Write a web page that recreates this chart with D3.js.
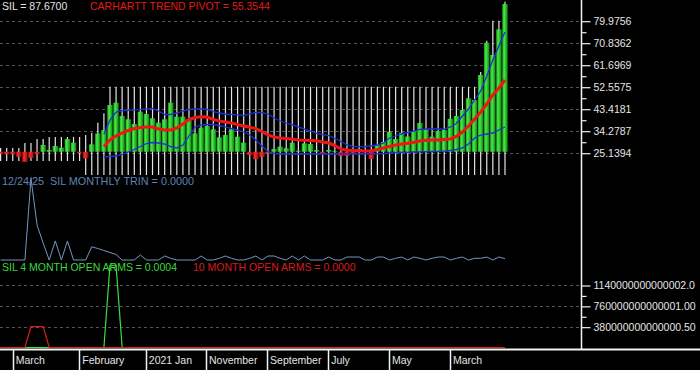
<!DOCTYPE html>
<html>
<head>
<meta charset="utf-8">
<script src="https://cdn.jsdelivr.net/npm/d3@7"></script>
<style>
  body { margin: 0; background: #000; }
  svg { display: block; font-family: "Liberation Sans", Arial, sans-serif; }
</style>
</head>
<body>
<div id="chart"></div>
<script>
// monthly closes, oldest first
var closes = [24.7, 24.5, 24.5, 23.48, 21.40, 22.94, 24.60, 28.34, 26.26, 27.92,
  27.22, 30.83, 29.29, 25.01, 22.81, 28.63, 33.12, 34.57, 44.95, 45.91,
  40.39, 39.02, 37.06, 42.17, 41.22, 39.43, 37.60, 39.02, 45.91, 40.09,
  40.09, 39.14, 33.20, 35.53, 36.23, 34.86, 31.54, 32.49, 34.86, 31.79,
  29.29, 24.18, 22.40, 23.35, 25.01, 26.68, 27.63, 26.97, 29.29, 25.97,
  29.04, 28.75, 26.26, 24.60, 26.26, 25.85, 23.77, 23.77, 25.01, 26.68,
  26.05, 22.52, 28.34, 29.58, 33.86, 30.83, 33.45, 31.87, 33.95, 37.48,
  34.86, 31.79, 34.15, 34.57, 39.22, 40.39, 42.88, 47.74, 47.03, 57.42,
  70.84, 65.73, 76.40, 86.90];
var barBase = 25.55;

var rangeHigh = [27.09, 27.09, 27.09, 27.09, 29.17, 29.17, 30.83, 30.83, 31.66, 31.66,
  31.66, 31.66, 31.66, 31.66, 32.49, 33.45, 37.60, 41.51, 52.56, 52.56,
  52.56, 52.56, 52.56, 52.56, 52.56, 52.56, 52.56, 52.56, 52.56, 52.56,
  52.56, 52.56, 52.56, 52.56, 52.56, 52.56, 52.56, 52.56, 52.56, 52.56,
  52.56, 52.56, 52.56, 52.56, 52.56, 52.56, 52.56, 52.56, 52.56, 52.56,
  52.56, 52.56, 52.56, 52.56, 52.56, 52.56, 52.56, 52.56, 52.56, 52.56,
  52.56, 52.56, 52.56, 52.56, 52.56, 52.56, 52.56, 52.56, 52.56, 52.56,
  52.56, 52.56, 52.56, 52.56, 52.56, 52.56, 52.56, 52.56, 52.56, 58.66,
  71.67, 79.98, 79.98, 87.87];
var rangeLow = [21.69, 21.69, 21.69, 21.69, 21.69, 21.69, 21.69, 21.69, 21.69, 21.69,
  21.69, 21.69, 21.69, 21.69, 15.87, 15.87, 15.87, 15.87, 15.87, 15.87,
  15.87, 15.87, 15.87, 15.87, 15.87, 15.87, 15.87, 15.87, 15.87, 15.87,
  15.87, 15.87, 15.87, 15.87, 15.87, 15.87, 15.87, 15.87, 15.87, 15.87,
  15.87, 15.87, 15.87, 15.87, 15.87, 15.87, 15.87, 15.87, 15.87, 15.87,
  15.87, 15.87, 15.87, 15.87, 15.87, 15.87, 15.87, 15.87, 15.87, 15.87,
  15.87, 15.87, 15.87, 15.87, 15.87, 15.87, 15.87, 15.87, 15.87, 15.87,
  15.87, 15.87, 15.87, 15.87, 15.87, 15.87, 15.87, 15.87, 15.87, 15.87,
  15.87, 15.87, 15.87, 15.87];

// trend pivot and its bands start at bar 17
var pivot = [null, null, null, null, null, null, null, null, null, null,
  null, null, null, null, null, null, null,
  27.71, 30.41, 32.08, 33.32, 34.36, 35.19, 35.61, 35.82, 35.82, 34.98,
  34.57, 34.57, 35.40, 37.06, 38.93, 39.76, 40.09, 39.97, 38.93, 38.31,
  37.89, 37.48, 36.85, 36.23, 35.69, 35.19, 33.95, 32.49, 31.66, 31.25,
  31.04, 30.71, 30.41, 30.29, 30.21, 30.12, 29.58, 29.17, 28.13, 26.68,
  26.18, 26.05, 25.97, 25.85, 25.93, 26.47, 27.09, 27.71, 28.34, 28.75,
  29.04, 29.46, 30.00, 30.29, 30.41, 30.41, 30.62, 30.83, 31.87, 33.74,
  36.23, 39.14, 42.05, 45.37, 49.11, 52.02, 55.35];
var upperBand = [null, null, null, null, null, null, null, null, null, null,
  null, null, null, null, null, null, null,
  32.91, 38.72, 42.05, 42.67, 42.88, 42.96, 43.17, 43.29, 43.50, 42.46,
  41.01, 41.01, 41.63, 42.46, 43.09, 43.29, 43.29, 43.09, 42.25, 41.63,
  41.22, 41.09, 40.88, 40.59, 41.22, 41.84, 41.84, 41.22, 39.55, 38.31,
  37.48, 36.65, 35.82, 34.98, 34.15, 33.20, 32.70, 32.28, 31.04, 29.79,
  28.34, 27.63, 27.63, 27.71, 27.92, 28.34, 29.17, 31.25, 32.08, 32.91,
  33.53, 34.15, 34.86, 34.98, 34.98, 34.98, 34.98, 35.82, 37.27, 40.39,
  43.29, 47.03, 50.77, 57.00, 63.65, 69.46, 75.28];
var lowerBand = [null, null, null, null, null, null, null, null, null, null,
  null, null, null, null, null, null, null,
  23.35, 23.56, 23.77, 24.39, 25.43, 26.47, 27.71, 28.96, 29.38, 29.17,
  28.75, 27.71, 27.09, 28.34, 32.08, 35.82, 36.65, 36.85, 36.85, 36.44,
  35.82, 35.19, 34.57, 33.74, 32.49, 30.41, 27.92, 25.64, 24.81, 24.60,
  24.60, 24.60, 24.60, 24.60, 24.60, 24.60, 24.60, 24.60, 24.60, 24.60,
  24.60, 24.60, 24.60, 24.60, 24.60, 24.68, 24.81, 25.01, 25.14, 25.22,
  25.31, 25.43, 25.51, 25.55, 25.64, 25.72, 25.85, 26.05, 26.47, 27.09,
  28.75, 31.25, 32.49, 32.91, 33.32, 34.57, 35.82];

var trin = [0, 0, 0, 0, 0, 9.6, 4.1, 2.0, 0, 2.24,
  0, 2.24, 0, 0, 0, 1.56, 1.35, 1.12, 0.88, 0.65,
  0, 0, 0, 0.59, 0, 0, 0, 0.47, 0.2, 0,
  0, 0, 0, 0.47, 0, 0, 0.2, 0.47, 0.2, 0,
  0, 0.2, 0.47, 0, 0.47, 0.47, 0.2, 0, 0.47, 0,
  0.47, 0, 0, 0, 0.35, 0, 0, 0.35, 0.35, 0.35,
  0, 0, 0.35, 0.35, 0, 0.2, 0.35, 0, 0.35, 0.2,
  0, 0.2, 0.35, 0.35, 0, 0.2, 0.35, 0, 0.2, 0.2,
  0.35, 0, 0.35, 0.15];

var arms4 = [0, 0, 0, 0, 0, 0, 0, 0, 0, 0,
  0, 0, 0, 0, 0, 0, 0, 0, 1.5e15, 1.5e15,
  0, 0, 0, 0, 0, 0, 0, 0, 0, 0,
  0, 0, 0, 0, 0, 0, 0, 0, 0, 0,
  0, 0, 0, 0, 0, 0, 0, 0, 0, 0,
  0, 0, 0, 0, 0, 0, 0, 0, 0, 0,
  0, 0, 0, 0, 0, 0, 0, 0, 0, 0,
  0, 0, 0, 0, 0, 0, 0, 0, 0, 0,
  0, 0, 0, 0];
var arms10 = [0, 0, 0, 0, 0, 3.8e14, 3.8e14, 3.8e14, 0, 0,
  0, 0, 0, 0, 0, 0, 0, 0, 0, 0,
  0, 0, 0, 0, 0, 0, 0, 0, 0, 0,
  0, 0, 0, 0, 0, 0, 0, 0, 0, 0,
  0, 0, 0, 0, 0, 0, 0, 0, 0, 0,
  0, 0, 0, 0, 0, 0, 0, 0, 0, 0,
  0, 0, 0, 0, 0, 0, 0, 0, 0, 0,
  0, 0, 0, 0, 0, 0, 0, 0, 0, 0,
  0, 0, 0, 0];

var priceTicks = [25.1394, 34.2787, 43.4181, 52.5575, 61.6969, 70.8362, 79.9756];
var armsTicks = [3.8e14, 7.6e14, 1.14e15];
var armsTickLabels = ['380000000000000.50', '760000000000001.00', '1140000000000002.0'];

var monthLabels = ['March', 'February', '2021 Jan', 'November', 'September', 'July', 'May', 'March'];
var monthAt = [2, 12.95, 23.9, 33.8, 43.85, 53.9, 63.9, 73.95];

var width = 700;
var height = 370;
var axisX = 581.5;
var axisBottom = 349.5;
var textColor = '#e4e4e4';

var svg = d3.select('#chart').append('svg')
  .attr('width', width)
  .attr('height', height)
  .style('background', '#000');

var x = d3.scaleLinear().domain([0, closes.length - 1]).range([0.6, 505]);
var y = d3.scaleLinear().domain([priceTicks[0], priceTicks[priceTicks.length - 1]]).range([152.7, 20.7]);
var yTrin = d3.scaleLinear().domain([0, 10]).range([260, 175]);
var yArms = d3.scaleLinear().domain([0, armsTicks[2]]).range([347.5, 285]);

var defs = svg.append('defs');
function barGradient(id, edge, mid, dark) {
  var g = defs.append('linearGradient').attr('id', id)
    .attr('x1', '0').attr('x2', '1').attr('y1', '0').attr('y2', '0');
  g.append('stop').attr('offset', '0%').attr('stop-color', edge);
  g.append('stop').attr('offset', '35%').attr('stop-color', mid);
  g.append('stop').attr('offset', '100%').attr('stop-color', dark);
}
barGradient('upFill', '#1ca81c', '#48ea48', '#108010');
barGradient('downFill', '#a80c0c', '#ff2e2e', '#8a0a0a');

// dashed grid
var grid = svg.append('g')
  .attr('stroke', '#565656')
  .attr('stroke-dasharray', '3,3')
  .attr('stroke-width', 1);
grid.selectAll('line.price').data(priceTicks).enter().append('line')
  .attr('class', 'price')
  .attr('x1', 0).attr('x2', axisX)
  .attr('y1', function(d) { return Math.round(y(d)) + 0.5; })
  .attr('y2', function(d) { return Math.round(y(d)) + 0.5; });
grid.selectAll('line.arms').data(armsTicks).enter().append('line')
  .attr('class', 'arms')
  .attr('x1', 0).attr('x2', axisX)
  .attr('y1', function(d) { return Math.round(yArms(d)) + 0.5; })
  .attr('y2', function(d) { return Math.round(yArms(d)) + 0.5; });

// range sticks
svg.append('g').selectAll('line').data(closes).enter().append('line')
  .attr('x1', function(d, i) { return x(i); })
  .attr('x2', function(d, i) { return x(i); })
  .attr('y1', function(d, i) { return y(rangeHigh[i]); })
  .attr('y2', function(d, i) { return y(rangeLow[i]); })
  .attr('stroke', '#e4e4e4')
  .attr('stroke-width', 1.2);

// bars from base
var barW = 5.4;
svg.append('g').selectAll('rect').data(closes).enter().append('rect')
  .attr('x', function(d, i) { return x(i) - barW / 2; })
  .attr('width', barW)
  .attr('y', function(d) { return Math.min(y(d), y(barBase)); })
  .attr('height', function(d) { return Math.abs(y(d) - y(barBase)); })
  .attr('fill', function(d) { return d >= barBase ? 'url(#upFill)' : 'url(#downFill)'; });

function seriesLine(scale) {
  return d3.line()
    .defined(function(d) { return d !== null; })
    .x(function(d, i) { return x(i); })
    .y(function(d) { return scale(d); });
}

svg.append('path').datum(upperBand)
  .attr('d', seriesLine(y))
  .attr('fill', 'none').attr('stroke', '#1c2fd8').attr('stroke-width', 1.3);
svg.append('path').datum(lowerBand)
  .attr('d', seriesLine(y))
  .attr('fill', 'none').attr('stroke', '#1c2fd8').attr('stroke-width', 1.3);
svg.append('path').datum(pivot)
  .attr('d', seriesLine(y))
  .attr('fill', 'none').attr('stroke', '#f21414').attr('stroke-width', 3)
  .attr('stroke-linejoin', 'round');

// trin panel
svg.append('path').datum(trin)
  .attr('d', seriesLine(yTrin))
  .attr('fill', 'none').attr('stroke', '#7596c4').attr('stroke-width', 1);

// open arms panel
svg.append('path').datum(arms4)
  .attr('d', seriesLine(yArms))
  .attr('fill', 'none').attr('stroke', '#3ee03e').attr('stroke-width', 1.2);
svg.append('path').datum(arms10)
  .attr('d', seriesLine(yArms))
  .attr('fill', 'none').attr('stroke', '#d82020').attr('stroke-width', 1.2);

// right axes
function styleAxis(g) {
  g.select('.domain').remove();
  g.selectAll('line').attr('stroke', '#f0f0f0').attr('stroke-width', 1.2);
  g.selectAll('text').attr('fill', textColor)
    .attr('font-size', '10.5px')
    .attr('font-family', '"Liberation Sans", Arial, sans-serif');
}
var minorPrice = d3.pairs(priceTicks).map(function(p) { return (p[0] + p[1]) / 2; });
var minorArms = d3.pairs(armsTicks).map(function(p) { return (p[0] + p[1]) / 2; });

svg.append('g').attr('transform', 'translate(' + axisX + ',0.5)')
  .call(d3.axisRight(y).tickValues(priceTicks).tickSize(9).tickPadding(3).tickFormat(d3.format('.4f')))
  .call(styleAxis);
svg.append('g').attr('transform', 'translate(' + axisX + ',0.5)')
  .call(d3.axisRight(y).tickValues(minorPrice).tickSize(5).tickFormat(''))
  .call(styleAxis);
svg.append('g').attr('transform', 'translate(' + axisX + ',0.5)')
  .call(d3.axisRight(yArms).tickValues(armsTicks).tickSize(9).tickPadding(3)
    .tickFormat(function(d, i) { return armsTickLabels[i]; }))
  .call(styleAxis);
svg.append('g').attr('transform', 'translate(' + axisX + ',0.5)')
  .call(d3.axisRight(yArms).tickValues(minorArms).tickSize(5).tickFormat(''))
  .call(styleAxis);

svg.append('line')
  .attr('x1', axisX).attr('x2', axisX)
  .attr('y1', 0).attr('y2', axisBottom)
  .attr('stroke', '#f4f4f4').attr('stroke-width', 1.5);

// bottom date band
svg.append('line')
  .attr('x1', 0).attr('x2', width)
  .attr('y1', axisBottom).attr('y2', axisBottom)
  .attr('stroke', '#f4f4f4').attr('stroke-width', 2);
var dates = svg.append('g');
dates.selectAll('line').data(monthAt).enter().append('line')
  .attr('x1', function(d) { return Math.round(x(d)) + 0.5; })
  .attr('x2', function(d) { return Math.round(x(d)) + 0.5; })
  .attr('y1', axisBottom).attr('y2', height)
  .attr('stroke', '#f4f4f4').attr('stroke-width', 1.5);
dates.selectAll('text').data(monthLabels).enter().append('text')
  .attr('x', function(d, i) { return x(monthAt[i]) + 3; })
  .attr('y', 364)
  .attr('fill', textColor)
  .attr('font-size', '10.5px')
  .text(function(d) { return d; });

// titles
function title(tx, ty, color, str, size) {
  svg.append('text')
    .attr('x', tx).attr('y', ty)
    .attr('fill', color)
    .attr('font-size', (size || 10.5) + 'px')
    .style('white-space', 'pre')
    .text(str);
}
title(2, 10, textColor, 'SIL = 87.6700');
title(90, 10, '#e21a1a', 'CARHARTT TREND PIVOT = 55.3544');
title(2, 185, '#5f84b4', '12/24/25  SIL MONTHLY TRIN = 0.0000', 10.8);
title(2, 271, '#3ed83e', 'SIL 4 MONTH OPEN ARMS = 0.0004');
title(193, 271, '#d81c1c', '10 MONTH OPEN ARMS = 0.0000');
</script>
</body>
</html>
